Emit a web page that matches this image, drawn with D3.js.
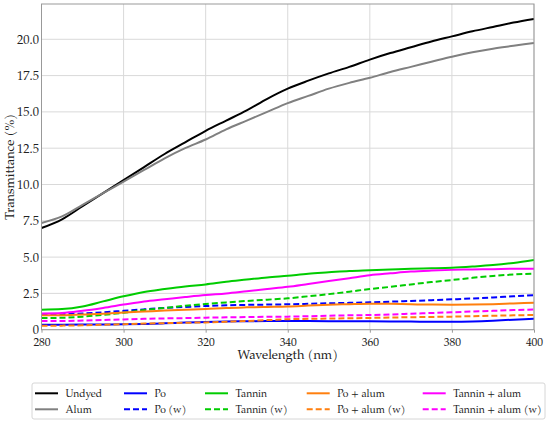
<!DOCTYPE html>
<html><head><meta charset="utf-8">
<script src="https://cdn.jsdelivr.net/npm/d3@7"></script>
<style>body{margin:0;background:#fff}svg{display:block}</style>
</head><body><svg id="c" width="550" height="425"></svg>
<script>
const wavelengths = [280,285,290,295,300,305,310,315,320,325,330,335,340,345,350,355,360,365,370,375,380,385,390,395,400];
const undyed      = [7.0,7.6,8.5,9.4,10.3,11.2,12.1,12.9,13.7,14.4,15.1,15.9,16.6,17.15,17.65,18.1,18.6,19.05,19.45,19.85,20.2,20.55,20.85,21.15,21.4];
const alum        = [7.35,7.8,8.6,9.4,10.2,11.0,11.8,12.5,13.1,13.8,14.4,15.0,15.6,16.1,16.6,17.0,17.35,17.75,18.1,18.45,18.8,19.1,19.35,19.55,19.75];
const po          = [0.34,0.34,0.35,0.36,0.37,0.4,0.44,0.49,0.53,0.56,0.58,0.6,0.6,0.6,0.59,0.58,0.58,0.57,0.56,0.55,0.55,0.57,0.62,0.69,0.76];
const poW         = [1.07,1.08,1.12,1.2,1.3,1.4,1.5,1.57,1.63,1.68,1.71,1.73,1.75,1.78,1.82,1.85,1.89,1.93,1.98,2.03,2.09,2.15,2.22,2.3,2.38];
const tannin      = [1.38,1.42,1.6,1.95,2.3,2.6,2.8,2.98,3.12,3.3,3.45,3.6,3.72,3.85,3.95,4.05,4.1,4.15,4.2,4.23,4.27,4.35,4.45,4.6,4.8];
const tanninW     = [0.8,0.82,0.9,1.02,1.17,1.35,1.5,1.65,1.77,1.88,1.98,2.07,2.16,2.3,2.45,2.62,2.8,2.95,3.12,3.28,3.42,3.57,3.7,3.8,3.86];
const poAlum      = [1.0,1.0,1.05,1.1,1.18,1.25,1.32,1.38,1.43,1.5,1.54,1.57,1.6,1.66,1.72,1.76,1.79,1.78,1.75,1.73,1.72,1.73,1.76,1.81,1.86];
const poAlumW     = [0.27,0.28,0.3,0.34,0.38,0.42,0.45,0.48,0.5,0.55,0.6,0.66,0.72,0.75,0.77,0.79,0.81,0.84,0.86,0.88,0.9,0.93,0.96,0.99,1.01];
const tanninAlum  = [1.12,1.15,1.3,1.5,1.73,1.95,2.1,2.25,2.39,2.5,2.65,2.8,2.95,3.15,3.35,3.55,3.75,3.88,4.0,4.07,4.12,4.15,4.17,4.2,4.2];
const tanninAlumW = [0.6,0.6,0.63,0.67,0.71,0.75,0.78,0.8,0.83,0.85,0.87,0.89,0.9,0.93,0.96,0.99,1.01,1.05,1.1,1.15,1.2,1.25,1.3,1.35,1.39];

const seriesNames = ["Undyed","Alum","Po","Po (w)","Tannin","Tannin (w)","Po + alum","Po + alum (w)","Tannin + alum","Tannin + alum (w)"];
const seriesValues = [undyed,alum,po,poW,tannin,tanninW,poAlum,poAlumW,tanninAlum,tanninAlumW];
const xTicks = [280,300,320,340,360,380,400];
const yTicks = [0,2.5,5,7.5,10,12.5,15,17.5,20];
const yTickLabels = ["0","2.5","5.0","7.5","10.0","12.5","15.0","17.5","20.0"];

const colors = ["#000000","#808080","#0000ff","#0000ff","#00cc00","#00cc00","#ff7f0e","#ff7f0e","#ff00ff","#ff00ff"];
const dashed = [false,false,false,true,false,true,false,true,false,true];

const FONT = '"P052","TeX Gyre Pagella","URW Palladio L","Palatino Linotype","Book Antiqua",Palatino,"DejaVu Serif",serif';
const svg = d3.select("#c").attr("font-family",FONT);
const L = 41.5, R = 534, T = 4, B = 329.7;
const x = d3.scaleLinear().domain([280,400]).range([L,R]);
const y = d3.scaleLinear().domain([0,22.43]).range([B,T]);

// grid
const g = svg.append("g");
g.selectAll(".gx").data(xTicks).join("line").attr("x1",d=>x(d)).attr("x2",d=>x(d)).attr("y1",T).attr("y2",B)
  .attr("stroke","#d9d9d9").attr("stroke-width",1);
g.selectAll(".gy").data(yTicks).join("line").attr("y1",d=>y(d)).attr("y2",d=>y(d)).attr("x1",L).attr("x2",R)
  .attr("stroke","#d9d9d9").attr("stroke-width",1);

// axes
const xAxis = d3.axisBottom(x).tickValues(xTicks).tickSize(3).tickPadding(5).tickFormat(d3.format("d"));
const yAxis = d3.axisLeft(y).tickValues(yTicks).tickSize(0).tickPadding(2.5).tickFormat((d,i)=>yTickLabels[i]);
const ax = svg.append("g").attr("transform",`translate(0,${B})`).call(xAxis);
const ay = svg.append("g").attr("transform",`translate(${L},0)`).call(yAxis);
ax.attr("font-family",FONT).attr("font-size",11.5);
ay.attr("font-family",FONT).attr("font-size",12.5);
[ax,ay].forEach(a=>{
  a.select(".domain").remove();
  a.selectAll(".tick line").attr("stroke","#999");
  a.selectAll(".tick text").attr("fill","#222");
});

// lines
const line = d3.line().x((d,i)=>x(wavelengths[i])).y(d=>y(d)).curve(d3.curveMonotoneX);
svg.append("clipPath").attr("id","clp").append("rect").attr("x",L).attr("y",T).attr("width",R-L).attr("height",B-T);
const lg = svg.append("g").attr("clip-path","url(#clp)");
seriesValues.forEach((vals,i)=>{
  lg.append("path").attr("d",line(vals)).attr("fill","none").attr("stroke",colors[i])
    .attr("stroke-width",2).attr("stroke-dasharray",dashed[i]?"6,3":null);
});

// frame
svg.append("rect").attr("x",L).attr("y",T).attr("width",R-L).attr("height",B-T)
  .attr("fill","none").attr("stroke","#999").attr("stroke-width",1);

// axis labels
svg.append("text").attr("x",(L+R)/2).attr("y",359).attr("text-anchor","middle").attr("font-size",12.8).attr("fill","#222").text("Wavelength (nm)");
svg.append("text").attr("transform",`translate(14,${(T+B)/2}) rotate(-90)`).attr("text-anchor","middle").attr("font-size",12.8).attr("fill","#222").text("Transmittance (%)");

// legend
svg.append("rect").attr("x",32).attr("y",383).attr("width",513).attr("height",36).attr("rx",2)
  .attr("fill","#fff").attr("stroke","#d6d6d6").attr("stroke-width",1);
const colX = [35,124,205,306.7,422.7];
const rowY = [393.3,409.3];
seriesNames.forEach((name,i)=>{
  const c = Math.floor(i/2), r = i%2;
  svg.append("line").attr("x1",colX[c]).attr("x2",colX[c]+23).attr("y1",rowY[r]).attr("y2",rowY[r])
    .attr("stroke",colors[i]).attr("stroke-width",2).attr("stroke-dasharray",dashed[i]?"6,3":null);
  svg.append("text").attr("x",colX[c]+30.5).attr("y",rowY[r]).attr("dy","0.35em").attr("font-size",10.3).attr("fill","#222").text(name);
});
</script></body></html>
